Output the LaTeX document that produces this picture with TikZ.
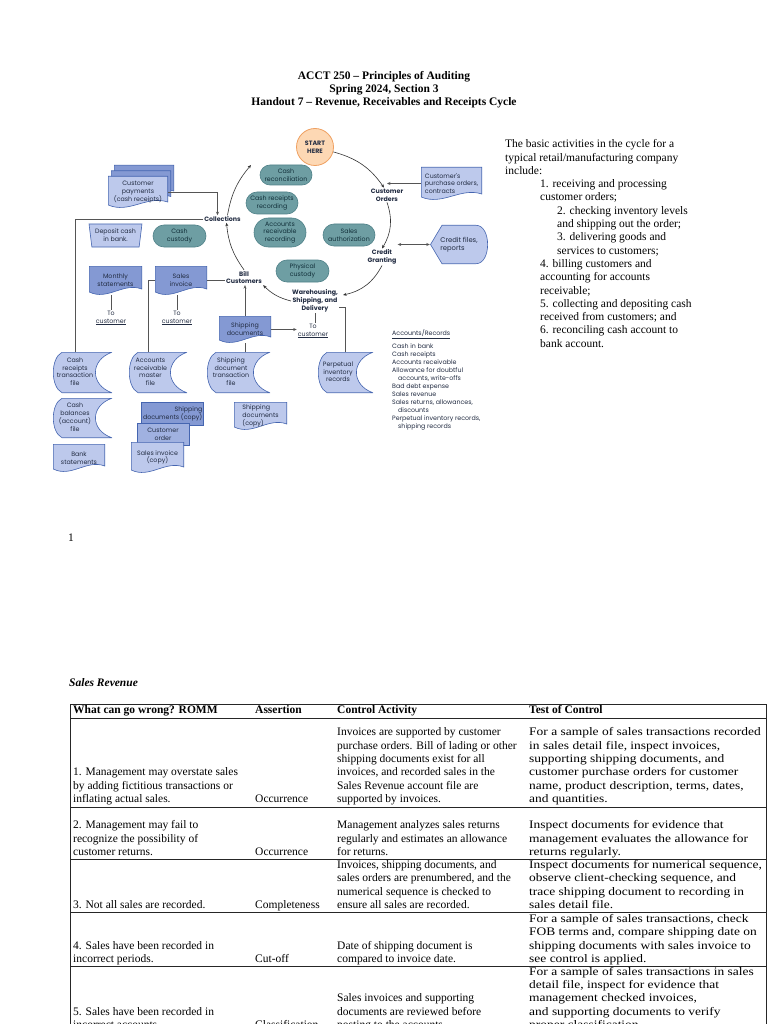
\documentclass[tikz,border=0pt]{standalone}
\usepackage{fontspec}
\setmainfont{Liberation Serif}
\newfontfamily\dgmfamily{Poppins}
\newfontfamily\widecol{Liberation Serif}[FakeStretch=1.17]
\usetikzlibrary{positioning, arrows.meta, calc, shapes.misc, shapes.geometric}

\definecolor{procfill}{HTML}{6E9EA3}
\definecolor{procedge}{HTML}{4F8188}
\definecolor{proctext}{HTML}{12303A}
\definecolor{lightfill}{HTML}{BDC9EC}
\definecolor{darkfill}{HTML}{8499D3}
\definecolor{midfill}{HTML}{A0B1E0}
\definecolor{docedge}{HTML}{4565B0}
\definecolor{startfill}{HTML}{FDD8B4}
\definecolor{startedge}{HTML}{EFA061}
\definecolor{dgmtext}{HTML}{222C42}
\definecolor{flowgray}{HTML}{555555}

\newcommand{\bodysize}{\fontsize{11.5}{13.3}\selectfont}
\newcommand{\dgm}{\dgmfamily\fontsize{6.3}{7.8}\selectfont}
\newcommand{\storetext}[1]{\begin{tabular}{@{}c@{}}#1\end{tabular}\hspace*{15pt}}

% paper document with a wavy lower edge
\newcommand{\docpath}[2]{%
  \path[fill=#1, draw=#2, line width=0.6pt]
    let \p1=(path picture bounding box.north west),
        \p2=(path picture bounding box.south east),
        \n1={\x2-\x1} in
    (\x1+0.3pt,\y1-0.3pt) -- (\x2-0.3pt,\y1-0.3pt) -- (\x2-0.3pt,\y2+6pt)
    .. controls (\x2-0.35*\n1,\y2+13pt) and (\x1+0.35*\n1,\y2-6pt) .. (\x1+0.3pt,\y2+3pt)
    -- cycle;}
% stored data (file) symbol
\newcommand{\storepath}[2]{%
  \path[fill=#1, draw=#2, line width=0.6pt]
    let \p1=(path picture bounding box.north west),
        \p2=(path picture bounding box.south east),
        \n2={\y1-\y2} in
    (\x1+9pt,\y1-0.3pt) -- (\x2-0.3pt,\y1-0.3pt)
    .. controls (\x2-22pt,\y1-0.2*\n2) and (\x2-22pt,\y2+0.2*\n2) .. (\x2-0.3pt,\y2+0.3pt)
    -- (\x1+9pt,\y2+0.3pt)
    .. controls (\x1-2.6pt,\y2+0.15*\n2) and (\x1-2.6pt,\y1-0.15*\n2) .. (\x1+9pt,\y1-0.3pt)
    -- cycle;}
% display symbol
\newcommand{\displaypath}[2]{%
  \path[fill=#1, draw=#2, line width=0.6pt]
    let \p1=(path picture bounding box.north west),
        \p2=(path picture bounding box.south east) in
    (\x1+0.5pt,{0.5*\y1+0.5*\y2}) -- (\x1+12pt,\y1-0.3pt) -- (\x2-12pt,\y1-0.3pt)
    .. controls (\x2+3.5pt,\y1-0.3pt) and (\x2+3.5pt,\y2+0.3pt) .. (\x2-12pt,\y2+0.3pt)
    -- (\x1+12pt,\y2+0.3pt) -- cycle;}

\begin{document}
\begin{tikzpicture}[
  x=1pt, y=-1pt,
  >={Stealth[length=3.5pt, width=3pt]},
  bodytext/.style={font=\bodysize, inner sep=0pt, align=left},
  titletext/.style={font=\bodysize\bfseries, inner sep=0pt, align=center},
  cell/.style={font=\bodysize, inner sep=0pt, align=left, anchor=south west, text depth=3pt},
  widecell/.style={cell, font=\widecol\bodysize},
  headcell/.style={cell, font=\bodysize\bfseries},
  rule/.style={draw=black!85, line width=0.9pt},
  proc/.style={
    rounded rectangle, draw=procedge, fill=procfill, line width=0.6pt,
    text=proctext, font=\dgm, align=center, inner sep=1pt
  },
  start/.style={
    circle, draw=startedge, fill=startfill, line width=0.8pt, minimum size=37pt,
    text=dgmtext, font=\dgm\bfseries, align=center, inner sep=0pt
  },
  steplbl/.style={text=dgmtext, font=\dgm\bfseries, align=center, inner sep=1pt},
  tolbl/.style={text=dgmtext, font=\dgm, align=center, inner sep=1pt},
  docbase/.style={text=dgmtext, font=\dgm, align=center, inner sep=1pt},
  lightdoc/.style={docbase, path picture={\docpath{lightfill}{docedge}}},
  darkdoc/.style={docbase, path picture={\docpath{darkfill}{docedge}}},
  store/.style={docbase, inner sep=0pt, path picture={\storepath{lightfill}{docedge}}},
  displayshape/.style={docbase, path picture={\displaypath{lightfill}{docedge}}},
  manualop/.style={
    trapezium, shape border rotate=180, trapezium stretches=true,
    trapezium left angle=80, trapezium right angle=80,
    draw=docedge, fill=lightfill, line width=0.6pt,
    text=dgmtext, font=\dgm, align=center, inner sep=1pt
  },
  flatdoc/.style={draw=docedge, line width=0.6pt, text=dgmtext, font=\dgm, align=center, inner sep=1pt},
  legend/.style={text=dgmtext, font=\dgmfamily\fontsize{6.3}{8}\selectfont, align=left, inner sep=0pt},
  flow/.style={draw=flowgray, line width=0.6pt},
  cyc/.style={->, draw=black!80, line width=0.6pt}
]
\useasboundingbox[fill=white] (0,0) rectangle (768,1024);

% Heading
\node[titletext] (title) at (384,89.5) {ACCT 250 – Principles of Auditing\\
  Spring 2024, Section 3\\Handout 7 – Revenue, Receivables and Receipts Cycle};

% Cycle steps
\node[start] (start) at (315,147) {START\\HERE};
\node[steplbl] (orders) at (387,195) {Customer\\Orders};
\node[steplbl] (credit) at (382,257) {Credit\\Granting};
\node[steplbl] (ware) at (315,301) {Warehousing,\\Shipping, and\\Delivery};
\node[steplbl] (bill) at (244,277.5) {Bill\\Customers};
\node[steplbl] (collect) at (222.5,219) {Collections};
\coordinate (cycend) at (251,165);

% Processes inside the cycle
\node[proc, minimum width=54pt, minimum height=20pt] (cashrec) at (286,175) {Cash\\reconciliation};
\node[proc, minimum width=54pt, minimum height=22pt] (cashrcpt) at (272,203) {Cash receipts\\recording};
\node[proc, minimum width=54pt, minimum height=29pt] (arrec) at (280,232.5) {Accounts\\receivable\\recording};
\node[proc, minimum width=54pt, minimum height=22pt] (salesauth) at (349,235) {Sales\\authorization};
\node[proc, minimum width=55pt, minimum height=22pt] (physcust) at (302.5,271) {Physical\\custody};
\node[proc, minimum width=55pt, minimum height=22pt] (cashcust) at (179.5,236) {Cash\\custody};

% Documents and files
\node[darkdoc, minimum width=60pt, minimum height=32pt] (cpayback) at (144,181) {};
\node[darkdoc, minimum width=60pt, minimum height=32pt] (cpaymid) at (141,186.5) {};
\node[lightdoc, minimum width=60pt, minimum height=32pt] (cpay) at (138,192) {Customer\\payments\\(cash receipts)};
\node[manualop, minimum width=53pt, minimum height=23pt] (depcash) at (115.5,235.5) {Deposit cash\\in bank.};
\node[darkdoc, minimum width=53pt, minimum height=29pt] (monthly) at (115.5,280.5) {Monthly\\statements};
\node[darkdoc, minimum width=52pt, minimum height=29pt] (salesinv) at (181,280.5) {Sales\\invoice};
\node[lightdoc, minimum width=61pt, minimum height=33pt, align=left] (custpo) at (451.5,183.5) {Customer's\\purchase orders,\\contracts};
\node[displayshape, minimum width=58pt, minimum height=39pt, align=left,
  font=\dgmfamily\fontsize{6.8}{8.4}\selectfont] (creditfiles) at (459,244.5) {Credit files,\\reports};
\node[darkdoc, minimum width=52pt, minimum height=27pt] (shipdocs) at (245,329.5) {Shipping\\documents};
\node[store, minimum width=63pt, minimum height=41pt] (shipfile) at (238.5,372.5) {\storetext{Shipping\\document\\transaction\\file}};
\node[lightdoc, minimum width=53pt, minimum height=28pt, align=left] (shipcopy) at (260.5,416) {Shipping\\documents\\(copy)};
\node[store, minimum width=55pt, minimum height=41pt] (perpinv) at (345.5,372.5) {\storetext{Perpetual\\inventory\\records}};
\node[store, minimum width=59pt, minimum height=41pt] (crfile) at (82.5,372.5) {\storetext{Cash\\receipts\\transaction\\file}};
\node[store, minimum width=59pt, minimum height=40pt] (cashbal) at (82.5,418) {\storetext{Cash\\balances\\(account)\\file}};
\node[lightdoc, minimum width=52pt, minimum height=28pt] (bankst) at (79,458) {Bank\\statements};
\node[store, minimum width=58pt, minimum height=41pt] (armaster) at (158,372.5) {\storetext{Accounts\\receivable\\master\\file}};
\node[flatdoc, fill=darkfill, minimum width=62pt, minimum height=23pt, anchor=north east, align=right] (shipcopy2) at (204,402) {Shipping\\documents (copy)};
\node[flatdoc, fill=midfill, minimum width=52pt, minimum height=22pt] (custorder) at (163,434) {Customer\\order};
\node[lightdoc, minimum width=53pt, minimum height=31pt] (salesinvcopy) at (157.5,457.5) {Sales invoice\\(copy)};

% To-customer labels
\node[tolbl] (tocust1) at (111,318) {To\\\underline{customer}};
\node[tolbl] (tocust2) at (177,318) {To\\\underline{customer}};
\node[tolbl] (tocust3) at (313,331) {To\\\underline{customer}};

% Accounts list
\node[legend, anchor=north west] (records) at (392,329.5) {\underline{Accounts/Records}\\[5pt]
  Cash in bank\\Cash receipts\\Accounts receivable\\Allowance for doubtful\\
  \hspace*{6pt}accounts, write-offs\\Bad debt expense\\Sales revenue\\
  Sales returns, allowances,\\\hspace*{6pt}discounts\\Perpetual inventory records,\\
  \hspace*{6pt}shipping records};

% Cycle arrows
\draw[cyc] (start.-15) to[bend left=20] ([xshift=-3pt]orders.north);
\draw[cyc] (orders.south) to[bend left=25] (credit.north);
\draw[cyc] (credit.south) to[bend left=25] ([xshift=4pt,yshift=6pt]ware.east);
\draw[cyc] (ware.west) to[bend left=15] (bill.south east);
\draw[cyc] (bill.north) to[bend left=15] ([xshift=4pt]collect.south);
\draw[cyc] ([xshift=5pt]collect.north) to[bend left=15] (cycend);

% Document flows
\draw[flow, ->] (cpay.east) -| ([xshift=-5pt]collect.north);
\draw[flow] (collect.west) -| ([xshift=-7.5pt]crfile.north);
\draw[flow] (salesinv.east) -- (salesinv.east -| bill.west);
\draw[flow] (salesinv.west) -| ([xshift=-10pt]armaster.north);
\draw[flow] (tocust1.north |- monthly.south) -- (tocust1.north);
\draw[flow] (tocust2.north |- salesinv.south) -- (tocust2.north);
\draw[flow, ->] (shipdocs.north) -- (shipdocs.north |- bill.south);
\draw[flow, ->] (shipdocs.east) -- (shipdocs.east -| tocust3.west);
\draw[flow] (ware.south) -- (ware.south |- tocust3.north);
\draw[flow] (perpinv.north) |- ([yshift=-6pt]ware.east);
\draw[flow] (shipdocs.south) -- (shipdocs.south |- shipfile.north);
\draw[flow, ->] (custpo.west) -- (custpo.west -| orders.north);
\draw[flow, <->] (credit.east |- creditfiles.west) -- (creditfiles.west);

% Activities text
\node[bodytext, anchor=north west] (intro) at (505,139.5) {The basic activities in the cycle for a\\
  typical retail/manufacturing company\\
  include:\\
  \hspace*{35pt}1. receiving and processing\\
  \hspace*{35pt}customer orders;\\
  \hspace*{52pt}2. checking inventory levels\\
  \hspace*{52pt}and shipping out the order;\\
  \hspace*{52pt}3. delivering goods and\\
  \hspace*{52pt}services to customers;\\
  \hspace*{35pt}4. billing customers and\\
  \hspace*{35pt}accounting for accounts\\
  \hspace*{35pt}receivable;\\
  \hspace*{35pt}5. collecting and depositing cash\\
  \hspace*{35pt}received from customers; and\\
  \hspace*{35pt}6. reconciling cash account to\\
  \hspace*{35pt}bank account.};

\node[bodytext, anchor=west] (pagenum) at (68,538) {1};
\node[bodytext, anchor=west, font=\bodysize\bfseries\itshape] (sectionhead) at (69,683) {Sales Revenue};

% Table rules
\draw[rule] (70,704) -- (766,704);
\draw[rule] (70,718) -- (766,718);
\draw[rule] (70,807) -- (766,807);
\draw[rule] (70,859) -- (766,859);
\draw[rule] (70,912) -- (766,912);
\draw[rule] (70,966) -- (766,966);
\draw[rule] (70,704) -- (70,1030);
\draw[rule] (766,704) -- (766,1030);

% Header row
\node[headcell] (h1) at (73,717) {What can go wrong? ROMM};
\node[headcell] (h2) at (255,717) {Assertion};
\node[headcell] (h3) at (337,717) {Control Activity};
\node[headcell] (h4) at (529,717) {Test of Control};

% Row 1
\node[cell] (r1c1) at (73,805.5) {1. Management may overstate sales\\by adding fictitious transactions or\\inflating actual sales.};
\node[cell] (r1c2) at (255,805.5) {Occurrence};
\node[cell] (r1c3) at (337,805.5) {Invoices are supported by customer\\purchase orders. Bill of lading or other\\shipping documents exist for all\\invoices, and recorded sales in the\\Sales Revenue account file are\\supported by invoices.};
\node[widecell] (r1c4) at (529,805.5) {For a sample of sales transactions recorded\\in sales detail file, inspect invoices,\\supporting shipping documents, and\\customer purchase orders for customer\\name, product description, terms, dates,\\and quantities.};

% Row 2
\node[cell] (r2c1) at (73,858.5) {2. Management may fail to\\recognize the possibility of\\customer returns.};
\node[cell] (r2c2) at (255,858.5) {Occurrence};
\node[cell] (r2c3) at (337,858.5) {Management analyzes sales returns\\regularly and estimates an allowance\\for returns.};
\node[widecell] (r2c4) at (529,858.5) {Inspect documents for evidence that\\management evaluates the allowance for\\returns regularly.};

% Row 3
\node[cell] (r3c1) at (73,911.5) {3. Not all sales are recorded.};
\node[cell] (r3c2) at (255,911.5) {Completeness};
\node[cell] (r3c3) at (337,911.5) {Invoices, shipping documents, and\\sales orders are prenumbered, and the\\numerical sequence is checked to\\ensure all sales are recorded.};
\node[widecell] (r3c4) at (529,911.5) {Inspect documents for numerical sequence,\\observe client-checking sequence, and\\trace shipping document to recording in\\sales detail file.};

% Row 4
\node[cell] (r4c1) at (73,965.5) {4. Sales have been recorded in\\incorrect periods.};
\node[cell] (r4c2) at (255,965.5) {Cut-off};
\node[cell] (r4c3) at (337,965.5) {Date of shipping document is\\compared to invoice date.};
\node[widecell] (r4c4) at (529,965.5) {For a sample of sales transactions, check\\FOB terms and, compare shipping date on\\shipping documents with sales invoice to\\see control is applied.};

% Row 5 (runs off the page)
\node[cell] (r5c1) at (73,1031.5) {5. Sales have been recorded in\\incorrect accounts.};
\node[cell] (r5c2) at (255,1031.5) {Classification};
\node[cell] (r5c3) at (337,1031.5) {Sales invoices and supporting\\documents are reviewed before\\posting to the accounts.};
\node[widecell] (r5c4) at (529,1031.5) {For a sample of sales transactions in sales\\detail file, inspect for evidence that\\management checked invoices,\\and supporting documents to verify\\proper classification.};
\end{tikzpicture}
\end{document}
